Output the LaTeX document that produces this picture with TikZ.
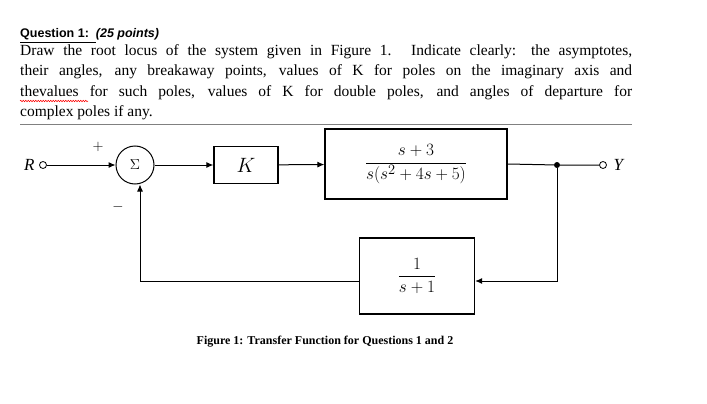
\documentclass[tikz,border=0pt]{standalone}
\usepackage{fontspec}
\setmainfont{Liberation Serif}
\newfontfamily\sansf{Liberation Sans}
\usetikzlibrary{arrows.meta,decorations.pathmorphing}
\begin{document}
\begin{tikzpicture}[x=1pt,y=-1pt,
  blk/.style={draw,line width=1.3pt,inner sep=0pt},
  sig/.style={line width=1pt},
  arr/.style={sig,-{Latex[length=7pt,width=6pt]}},
  port/.style={circle,draw,line width=0.8pt,fill=white,minimum size=7pt,inner sep=0pt},
  txt/.style={anchor=base west,inner sep=0pt,font=\fontsize{15.5}{19}\selectfont}]
\useasboundingbox (0,0) rectangle (707,404);
% text
\node[txt,font=\sansf\bfseries\itshape\fontsize{12.5}{15}\selectfont] (q) at (20,38) {\upshape\underline{Question 1:\ \ }\itshape(25 points)};
\node[txt] (l1) at (20,56) {\makebox[612pt][s]{Draw the root locus of the system given in Figure 1. Indicate clearly: the asymptotes,}};
\node[txt] (l2) at (20,76) {\makebox[612pt][s]{their angles, any breakaway points, values of K for poles on the imaginary axis and}};
\node[txt] (l3) at (20,96) {\makebox[612pt][s]{thevalues for such poles, values of K for double poles, and angles of departure for}};
\node[txt] (l4) at (20,116) {complex poles if any.};
\draw[red,line width=0.5pt,decorate,decoration={snake,amplitude=0.8pt,segment length=2.5pt}] (20,101) -- (88,101);
\draw[gray,line width=0.7pt] (20,124) -- (632,124);
% diagram
\node[port] (r) at (43,165) {};
\node[anchor=east,font=\itshape\fontsize{17}{17}\selectfont] (rl) at (38,165) {R};
\node[circle,draw,line width=1pt,minimum size=38pt,inner sep=0pt,font=\Large] (sum) at (135,165) {$\Sigma$};
\node (plus) at (98,147) {\Large $+$};
\node (minus) at (118,207) {\Large $-$};
\node[blk,minimum width=64pt,minimum height=37pt,font=\fontsize{20}{20}\selectfont] (k) at (246,165) {$K$};
\node[blk,minimum width=182pt,minimum height=70pt,font=\fontsize{19}{20}\selectfont] (g) at (416,164) {$\displaystyle\frac{s+3}{s(s^2+4s+5)}$};
\node[blk,minimum width=115pt,minimum height=76pt,font=\fontsize{19}{20}\selectfont] (h) at (417,276) {$\displaystyle\frac{1}{s+1}$};
\node[circle,fill,inner sep=0pt,minimum size=6pt] (j) at (557,165) {};
\node[port] (y) at (603,165) {};
\node[anchor=west,font=\itshape\fontsize{17}{17}\selectfont] (yl) at (610,165) {Y};
\coordinate (c1) at (557,281);
\coordinate (c2) at (140,281);
\draw[arr] (r) -- (sum);
\draw[arr] (sum) -- (k);
\draw[arr] (k) -- (g);
\draw[sig] (g.east) -- (j) -- (y);
\draw[arr] (j) -- (c1) -- (h.east|-c1);
\draw[arr] (h.west|-c2) -- (c2) -- (c2|-sum.south);
\node[font=\bfseries\fontsize{12}{14}\selectfont] (cap) at (325,342) {Figure 1: Transfer Function for Questions 1 and 2};
\end{tikzpicture}
\end{document}
